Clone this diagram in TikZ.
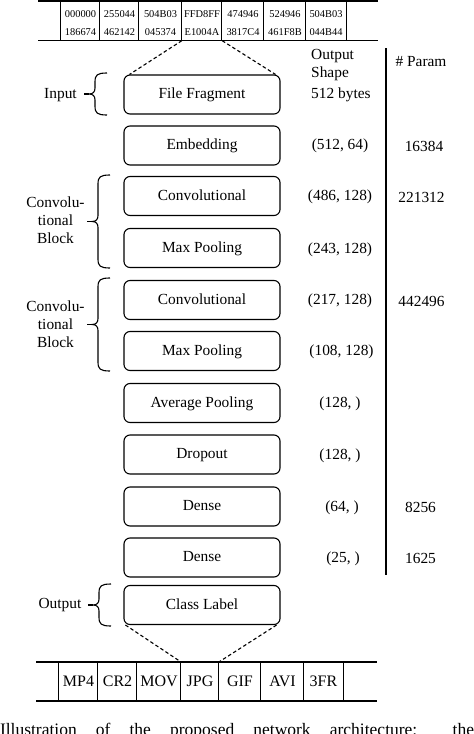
\documentclass[tikz,border=0pt]{standalone}
\usepackage{fontspec}
\setmainfont{Liberation Serif}
\usetikzlibrary{positioning}
\usetikzlibrary{calc}

\newcommand{\hexfont}{\fontsize{10.4}{18.3}\selectfont}
\newcommand{\hexgap}{\rule{0pt}{11.6pt}}
% curly group brace: tip name, x of ends, top y, bottom y
\newcommand{\grpbrace}[4]{%
  \draw[sep] (#2,#3) .. controls (#2-10,#3) and (#2-12,#3+2) .. (#2-12,#3+9)
     -- (#2-12,{(#3+#4)/2-6}) .. controls (#2-12,{(#3+#4)/2-2}) and (#2-14,{(#3+#4)/2}) .. (#2-18,{(#3+#4)/2}) coordinate (#1)
     .. controls (#2-14,{(#3+#4)/2}) and (#2-12,{(#3+#4)/2+2}) .. (#2-12,{(#3+#4)/2+6})
     -- (#2-12,#4-9) .. controls (#2-12,#4-2) and (#2-10,#4) .. (#2,#4);
  \draw[sep] (#1) -- ++(-5.5,0);}

\begin{document}
\begin{tikzpicture} [x=1pt,y=-1pt,
            layer/.style={draw, rounded corners=6pt, line width=1.1pt, minimum width=156pt,
                          minimum height=39pt, text height=10.5pt, text depth=1.8pt},
            hexcell/.style={minimum height=39.3pt, inner sep=0pt, font=\hexfont},
            extcell/.style={minimum height=39pt, inner sep=0pt, font=\fontsize{16}{18}\selectfont},
            note/.style={inner sep=0pt},
            sep/.style={line width=1.1pt},
            zoomline/.style={line width=1.1pt, dash pattern=on 3.5pt off 2.5pt},
         every node/.append style={align=center, font=\fontsize{15.4}{18}\selectfont}]

\useasboundingbox (0,0) rectangle (474,734);

%hex bytes
\draw[line width=2.2pt] (38,1.2) -- (378,1.2);
\draw[sep] (38,40.5) -- (378,40.5);
\node[hexcell, minimum width=39pt] (h1) at (80.5,20.85) {\hexgap 000000\\186674};
\node[hexcell, minimum width=39pt] (h2) at (119.5,20.85) {\hexgap 255044\\462142};
\node[hexcell, minimum width=43pt] (h3) at (160.5,20.85) {\hexgap 504B03\\045374};
\node[hexcell, minimum width=40pt] (h4) at (202,20.85) {\hexgap FFD8FF\\E1004A};
\node[hexcell, minimum width=42pt] (h5) at (243,20.85) {\hexgap 474946\\3817C4};
\node[hexcell, minimum width=42pt] (h6) at (285,20.85) {\hexgap 524946\\461F8B};
\node[hexcell, minimum width=40pt] (h7) at (326,20.85) {\hexgap 504B03\\044B44};
\draw[sep] (h1.north west) -- (h1.south west);
\draw[sep] (h2.north west) -- (h2.south west);
\draw[sep] (h3.north west) -- (h3.south west);
\draw[sep] (h4.north west) -- (h4.south west);
\draw[sep] (h5.north west) -- (h5.south west);
\draw[sep] (h6.north west) -- (h6.south west);
\draw[sep] (h7.north west) -- (h7.south west);
\draw[sep] (h7.north east) -- (h7.south east);

%layers
\node[layer] (ff) at (202,94.5) {File Fragment};
\node[layer] (emb) at (202,145.5) {Embedding};
\node[layer] (conv1) at (202,196) {Convolutional};
\node[layer] (pool1) at (202,248) {Max Pooling};
\node[layer] (conv2) at (202,300) {Convolutional};
\node[layer] (pool2) at (202,351) {Max Pooling};
\node[layer] (avg) at (202,403) {Average Pooling};
\node[layer] (drop) at (202,454.5) {Dropout};
\node[layer] (dense1) at (202,506.5) {Dense};
\node[layer] (dense2) at (202,557.5) {Dense};
\node[layer] (cls) at (202,605) {Class Label};

\draw[zoomline] (h4.south west) -- ([xshift=6pt]ff.north west);
\draw[zoomline] (h4.south east) -- ([xshift=-5pt]ff.north east);

%output shape
\node[note, anchor=west, align=left] (oshead) at (311,65.3) {Output\\Shape};
\node[note, anchor=west] (shp0) at (311,95.3) {512 bytes};
\node[note] (shp1) at (340,146) {(512, 64)};
\node[note] (shp2) at (340,197) {(486, 128)};
\node[note] (shp3) at (340,249.5) {(243, 128)};
\node[note] (shp4) at (340,301) {(217, 128)};
\node[note] (shp5) at (341.5,352) {(108, 128)};
\node[note] (shp6) at (340,404) {(128, )};
\node[note] (shp7) at (340,455.5) {(128, )};
\node[note] (shp8) at (342,507.5) {(64, )};
\node[note] (shp9) at (343,558.5) {(25, )};

%params
\draw[sep] (386,48) -- (386,575);
\node[note] (parhead) at (421,62) {\# Param};
\node[note] (par1) at (424,146) {16384};
\node[note] (par2) at (421.5,197) {221312};
\node[note] (par4) at (421.5,301) {442496};
\node[note] (par8) at (420.5,507.5) {8256};
\node[note] (par9) at (420.5,558.5) {1625};

%groups
\node[note] (inlbl) at (60.5,95.5) {Input};
\grpbrace{intip}{107}{73}{115}

\node[note] (blk1) at (55.5,220) {Convolu-\\tional\\Block};
\grpbrace{blk1tip}{110}{175}{268}

\node[note] (blk2) at (55.5,324) {Convolu-\\tional\\Block};
\grpbrace{blk2tip}{110}{278}{371}

\node[note] (outlbl) at (60,605.5) {Output};
\grpbrace{outtip}{111}{584}{626}

%classes
\draw[sep] (36,662) -- (377,662);
\draw[sep] (36,701) -- (377,701);
\node[extcell, minimum width=39pt] (e1) at (78.5,681.5) {MP4};
\node[extcell, minimum width=39pt] (e2) at (117.5,681.5) {CR2};
\node[extcell, minimum width=44pt] (e3) at (159,681.5) {MOV};
\node[extcell, minimum width=38pt] (e4) at (200,681.5) {JPG};
\node[extcell, minimum width=42pt] (e5) at (240,681.5) {GIF};
\node[extcell, minimum width=43pt] (e6) at (282.5,681.5) {AVI};
\node[extcell, minimum width=39pt] (e7) at (323.5,681.5) {3FR};
\draw[sep] (e1.north west) -- (e1.south west);
\draw[sep] (e2.north west) -- (e2.south west);
\draw[sep] (e3.north west) -- (e3.south west);
\draw[sep] (e4.north west) -- (e4.south west);
\draw[sep] (e5.north west) -- (e5.south west);
\draw[sep] (e6.north west) -- (e6.south west);
\draw[sep] (e7.north west) -- (e7.south west);
\draw[sep] (e7.north east) -- (e7.south east);

\draw[zoomline] ([xshift=2pt]cls.south west) -- (e4.north west);
\draw[zoomline] ([xshift=-4pt]cls.south east) -- (e4.north east);

%caption line
\node[note, anchor=base] (cap) at (237,735) {\fontsize{17.5}{20}\selectfont\makebox[474pt][s]{Illustration of the proposed network architecture: the}};

\end{tikzpicture}
\end{document}
